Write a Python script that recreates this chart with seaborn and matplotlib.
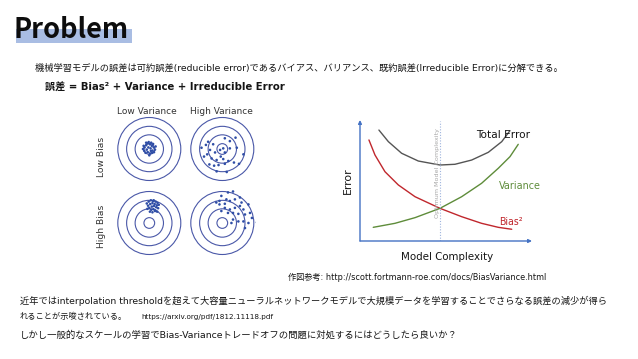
import numpy as np
import pandas as pd
import matplotlib
matplotlib.use("Agg")
import matplotlib.pyplot as plt
from matplotlib.patches import Rectangle, Circle
import seaborn as sns

# ---------------- data ----------------
complexity_total = [1.10, 1.65, 2.42, 3.39, 4.65, 5.52, 6.49, 7.46, 8.24, 8.72]
error_total = [9.17, 8.21, 7.25, 6.61, 6.28, 6.34, 6.69, 7.33, 8.21, 9.12]

complexity_bias = [0.52, 0.87, 1.45, 2.23, 3.20, 4.65, 5.91, 7.07, 8.04, 8.82]
error_bias = [8.35, 7.11, 5.73, 4.63, 3.66, 2.70, 2.01, 1.46, 1.13, 0.97]

complexity_var = [0.77, 2.03, 3.20, 4.65, 5.91, 7.07, 8.04, 8.72, 9.20]
error_var = [1.13, 1.46, 1.93, 2.70, 3.66, 4.77, 6.01, 6.97, 7.99]

optimum_complexity = 4.65

ring_radii = [1.0, 0.72, 0.45, 0.17]

lowbias_lowvar_x = [-0.15, -0.10, -0.05, 0.02, 0.08, 0.14, 0.18, 0.10, 0.04, -0.03, -0.08, -0.16,
                    -0.12, -0.05, 0.02, 0.09, 0.15, 0.00, -0.20, 0.20, 0.06, -0.02, -0.10, 0.12,
                    -0.18, 0.05]
lowbias_lowvar_y = [0.05, 0.12, 0.18, 0.15, 0.10, 0.05, -0.02, -0.05, 0.02, 0.05, -0.02, -0.06,
                    -0.12, -0.10, -0.14, -0.12, -0.10, -0.20, 0.00, 0.08, 0.20, 0.22, 0.20, 0.16,
                    0.10, -0.06]

lowbias_highvar_x = [0.08, 0.42, -0.66, -0.52, -0.29, -0.48, -0.23, -0.07, 0.03, 0.08, 0.24, 0.46,
                     0.67, -0.58, -0.34, -0.18, -0.05, 0.03, 0.19, 0.37, 0.53, -0.41, -0.26, -0.12,
                     0.08, -0.18, 0.14, -0.45, 0.24, -0.39]
lowbias_highvar_y = [0.34, 0.36, 0.04, 0.13, 0.15, -0.17, -0.11, -0.03, 0.02, -0.11, 0.02, 0.04,
                     -0.17, -0.24, -0.30, -0.35, -0.24, -0.32, -0.38, -0.43, -0.47, -0.49, -0.53, -0.51,
                     -0.47, -0.71, -0.73, 0.23, 0.25, -0.03]

highbias_lowvar_x = [-0.08, -0.02, 0.05, 0.12, 0.20, 0.26, 0.30, -0.04, 0.03, 0.10, 0.17, 0.24,
                     0.00, 0.08, 0.15, 0.22, 0.28, -0.06, 0.06, 0.13, 0.19, 0.02, 0.10, 0.18,
                     0.25, 0.14]
highbias_lowvar_y = [0.62, 0.68, 0.72, 0.70, 0.68, 0.64, 0.58, 0.55, 0.60, 0.63, 0.60, 0.56,
                     0.48, 0.52, 0.54, 0.50, 0.47, 0.45, 0.42, 0.44, 0.40, 0.36, 0.34, 0.38,
                     0.36, 0.72]

highbias_highvar_x = [0.18, 0.34, -0.03, -0.19, -0.09, 0.08, 0.24, 0.40, 0.56, 0.61, 0.83, 0.08,
                      0.24, 0.40, 0.56, 0.67, 0.34, 0.51, 0.72, 0.88, 0.18, -0.03, 0.94, 1.10,
                      0.34, 0.51, 0.67, 0.72, 0.83, 0.29, -0.09, 0.13]
highbias_highvar_y = [0.97, 1.00, 0.86, 0.65, 0.59, 0.61, 0.70, 0.75, 0.81, 0.65, 0.59, 0.48,
                      0.43, 0.48, 0.54, 0.43, 0.32, 0.29, 0.27, 0.32, 0.32, 0.38, 0.16, 0.02,
                      0.11, 0.05, 0.05, -0.16, 0.00, 0.00, 0.70, 0.75]

col_labels = ["Low Variance", "High Variance"]
row_labels = ["Low Bias", "High Bias"]

# ---------------- style ----------------
sns.set_style("white")
FAM = ["DejaVu Sans", "Noto Sans CJK JP"]
plt.rcParams["font.family"] = FAM

W, H = 638, 359
fig = plt.figure(figsize=(W / 100, H / 100), dpi=100)
fig.patch.set_facecolor("white")
renderer = fig.canvas.get_renderer()


def fx(x):
    return x / W


def fy(y):
    return 1 - y / H


def txt(x, y, s, **kw):
    return fig.text(fx(x), fy(y), s, **kw)


def fit(x0, x1, y, s, size, **kw):
    """place left-aligned text and scale its font so it spans x0..x1 pixels"""
    kw.setdefault("ha", "left")
    kw.setdefault("va", "center")
    t = txt(x0, y, s, fontsize=size, **kw)
    w = t.get_window_extent(renderer=renderer).width
    t.set_fontsize(size * (x1 - x0) / w)
    return t


dark = "#151515"

# title with highlight bar
fig.patches.append(Rectangle((fx(16), fy(43)), fx(132) - fx(16), (43 - 29) / H,
                             transform=fig.transFigure, facecolor="#a9bde3",
                             edgecolor="none", zorder=0))
fit(14, 129, 37.5, "Problem", 22, fontweight="bold", color="#0d0d0d", va="baseline",
    zorder=2, family=["Noto Sans CJK JP", "DejaVu Sans"])

fit(35, 565, 68, "機械学習モデルの誤差は可約誤差(reducible error)であるバイアス、バリアンス、既約誤差(Irreducible Error)に分解できる。",
    7, color=dark)
fit(45, 285, 88, "誤差 = Bias² + Variance + Irreducible Error", 8,
    fontweight="bold", color=dark)

# ---------------- targets ----------------
ring_color = "#4a58a8"
dot_color = "#2f4ea6"
R_px = 31.5
centers = [(149.3, 149), (222.3, 149), (149.3, 223), (222.3, 223)]
dots = [(lowbias_lowvar_x, lowbias_lowvar_y), (lowbias_highvar_x, lowbias_highvar_y),
        (highbias_lowvar_x, highbias_lowvar_y), (highbias_highvar_x, highbias_highvar_y)]
lim = 1.08
for (cx, cy), (dx, dy) in zip(centers, dots):
    half = R_px * lim
    ax = fig.add_axes([fx(cx - half), fy(cy + half), 2 * half / W, 2 * half / H])
    for r in ring_radii:
        ax.add_patch(Circle((0, 0), r, fill=False, edgecolor=ring_color, lw=0.8))
    sns.scatterplot(x=dx, y=dy, ax=ax, color=dot_color, s=3.5, edgecolor="none", legend=False)
    ax.set_xlim(-lim, lim)
    ax.set_ylim(-lim, lim)
    ax.set_aspect("equal")
    ax.axis("off")

fit(117, 177, 111, col_labels[0], 6.5, color="#333333")
fit(190, 253, 111, col_labels[1], 6.5, color="#333333")
for lab, y in zip(row_labels, [157, 226]):
    txt(101, y, lab, fontsize=6.6, color="#333333", ha="center", va="center", rotation=90)

# ---------------- bias-variance curve ----------------
axc = fig.add_axes([fx(360), fy(241), 172 / W, 121 / H])
axis_blue = "#4472c4"
df_total = pd.DataFrame({"c": complexity_total, "e": error_total})
df_bias = pd.DataFrame({"c": complexity_bias, "e": error_bias})
df_var = pd.DataFrame({"c": complexity_var, "e": error_var})
sns.lineplot(data=df_total, x="c", y="e", ax=axc, color="#555555", lw=1.0, sort=False)
sns.lineplot(data=df_bias, x="c", y="e", ax=axc, color="#c0272d", lw=1.0, sort=False)
sns.lineplot(data=df_var, x="c", y="e", ax=axc, color="#5e8c3a", lw=1.0, sort=False)
axc.axvline(optimum_complexity, color="#9fb4dd", lw=0.8, ls=(0, (1, 1.5)), ymax=0.99)
axc.set_xlim(0, 10)
axc.set_ylim(0, 10)
for s in axc.spines.values():
    s.set_visible(False)
axc.set_xticks([])
axc.set_yticks([])
axc.set_xlabel("")
axc.set_ylabel("")
axc.patch.set_alpha(0)
axc.annotate("", xy=(10, 0), xytext=(0, 0), annotation_clip=False,
             arrowprops=dict(arrowstyle="-|>", color=axis_blue, lw=1.0,
                             mutation_scale=5, shrinkA=0, shrinkB=0))
axc.annotate("", xy=(0, 10), xytext=(0, 0), annotation_clip=False,
             arrowprops=dict(arrowstyle="-|>", color=axis_blue, lw=1.0,
                             mutation_scale=5, shrinkA=0, shrinkB=0))
axc.text(optimum_complexity - 0.15, 5.6, "Optimum Model Complexity", rotation=90,
         fontsize=4.6, color="#a8a8a8", ha="center", va="center")

fit(476, 530, 135, "Total Error", 7.5, color=dark)
fit(499, 541, 186, "Variance", 7.5, color="#5e8c3a")
fit(499, 523, 222, "Bias²", 7.5, color="#c0272d")
txt(348, 181, "Error", fontsize=7.8, color=dark, ha="center", va="center", rotation=90)
fit(401, 493, 257, "Model Complexity", 7.5, color=dark)
fit(288, 546, 277, "作図参考: http://scott.fortmann-roe.com/docs/BiasVariance.html", 5.3,
    color=dark)

# ---------------- bottom text ----------------
fit(20, 607, 301, "近年ではinterpolation thresholdを超えて大容量ニューラルネットワークモデルで大規模データを学習することでさらなる誤差の減少が得ら",
    7, color=dark)
fit(20, 127, 316, "れることが示唆されている。", 7, color=dark)
fit(141, 272, 317, "https://arxiv.org/pdf/1812.11118.pdf", 4.5, color=dark)
fit(20, 459, 335, "しかし一般的なスケールの学習でBias-Varianceトレードオフの問題に対処するにはどうしたら良いか？",
    7, color=dark)

fig.savefig("out.png", dpi=100, facecolor="white")
